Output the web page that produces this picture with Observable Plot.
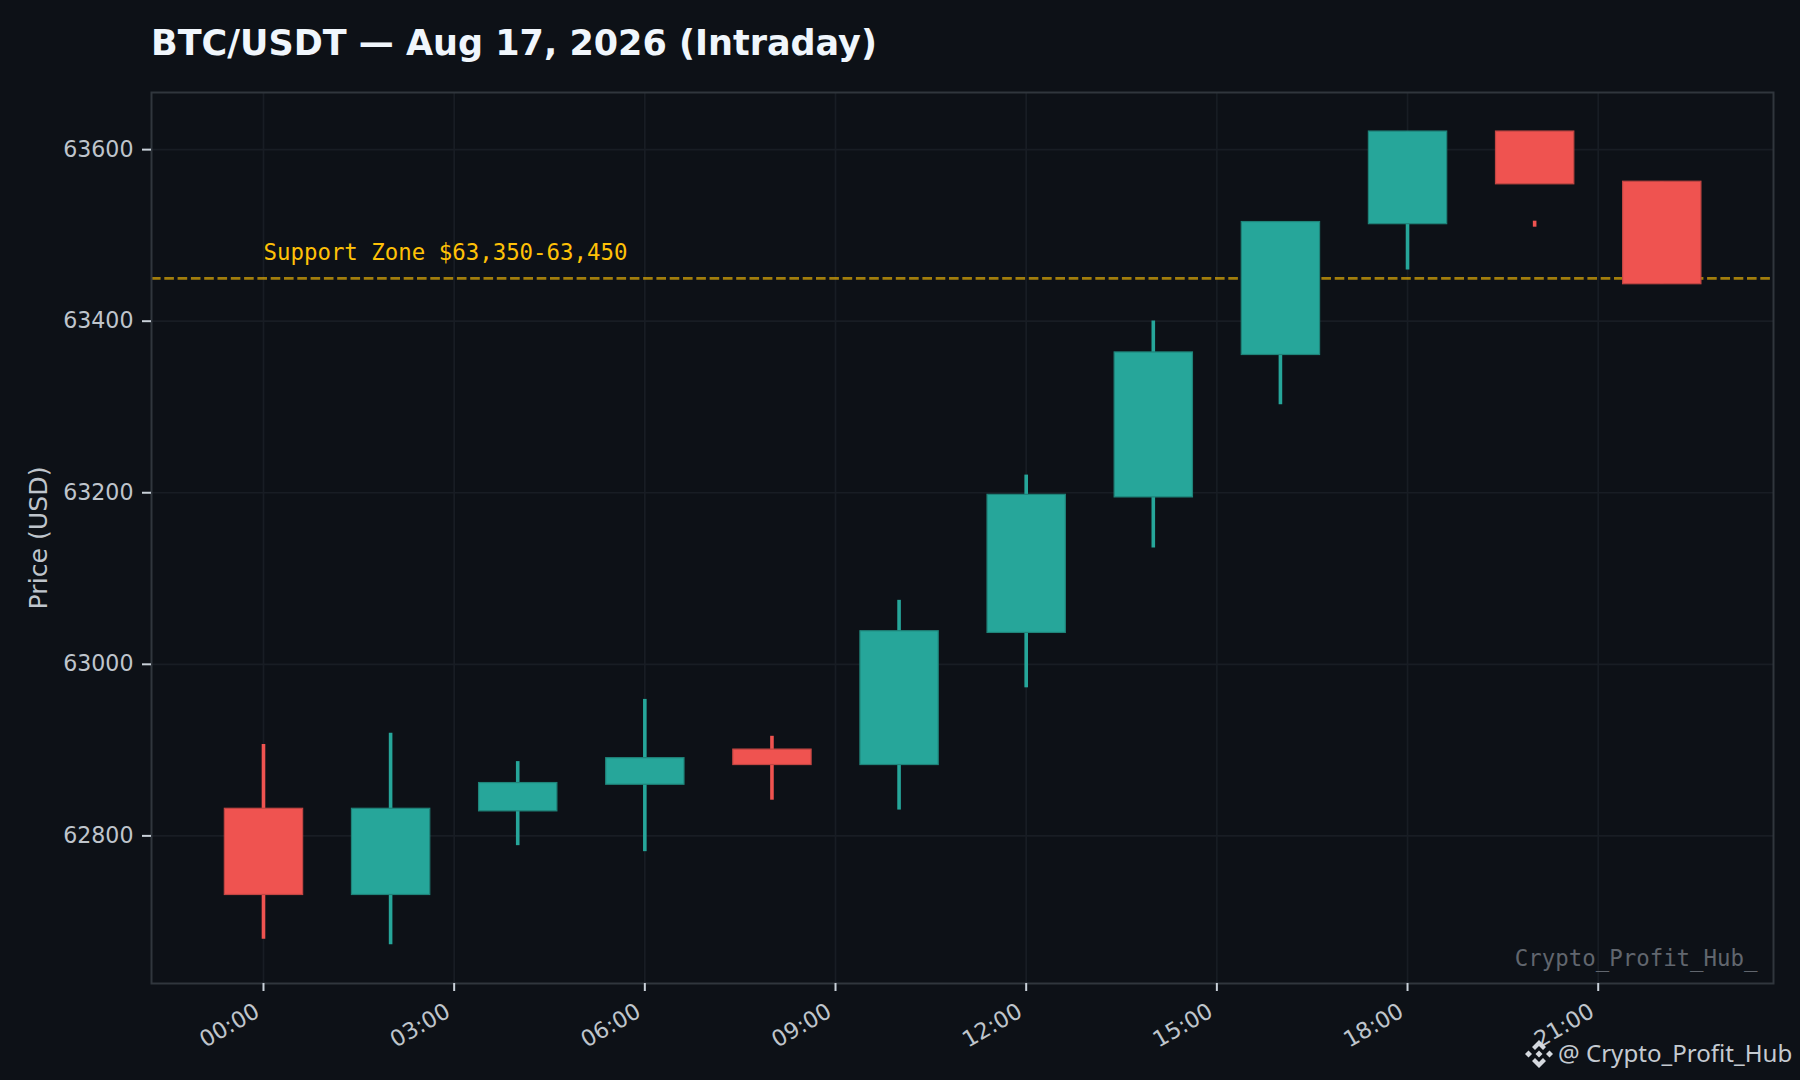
<!DOCTYPE html>
<html>
<head>
<meta charset="utf-8">
<script src="https://cdn.jsdelivr.net/npm/d3@7"></script>
<script src="https://cdn.jsdelivr.net/npm/@observablehq/plot@0.6"></script>
<style>
html,body{margin:0;padding:0;background:#0d1117;width:1800px;height:1080px;overflow:hidden;position:relative}
#title{height:70px;box-sizing:border-box;padding:22px 0 0 151px;font:bold 35px "DejaVu Sans";color:#f0f6fc;line-height:42px;white-space:nowrap}
#chart svg{display:block}
#credit{position:absolute;left:1525px;top:1038px;height:32px;width:275px;color:#c4cad1}
#credit svg{position:absolute;left:0;top:2px}
#credit span{position:absolute;left:33px;top:-1px;font:24.1px "Noto Sans";line-height:32px;white-space:nowrap}
</style>
</head>
<body>
<div id="title">BTC/USDT — Aug 17, 2026 (Intraday)</div>
<div id="chart"></div>
<div id="credit">
<svg width="28" height="28" viewBox="0 0 28 28" fill="#d5d9df"><polygon points="14,0 21,7 18,10 14,6 10,10 7,7"/><polygon points="0,14 3.500,10.500 7,14 3.500,17.500"/><polygon points="21,14 24.500,10.500 28,14 24.500,17.500"/><polygon points="14,10.500 17.500,14 14,17.500 10.500,14"/><polygon points="14,28 21,21 18,18 14,22 10,18 7,21"/></svg>
<span>@ Crypto_Profit_Hub</span>
</div>
<script>
const times = ["00:00","02:00","04:00","06:00","08:00","10:00","12:00","14:00","16:00","18:00","20:00","22:00"];
const bodyHigh = [62831,62831,62861,62890,62900,63038,63197,63363,63515,63620.5,63620.5,63562];
const bodyLow  = [62730.5,62730.5,62828,62859,62882,62882,63036,63194,63360,63512.5,63559,63442.5];
const wickHigh = [62906,62919,62886,62958.5,62915.5,63074,63220,63399.5,63515,63620.5,63516,63562];
const wickLow  = [62679,62672.5,62788,62781,62841,62829.5,62972,63135,63302,63459,63509,63442.5];
const isUp     = [false,true,true,true,false,true,true,true,true,true,false,false];
const tickHours = [0,3,6,9,12,15,18,21];
const tickLabels = ["00:00","03:00","06:00","09:00","12:00","15:00","18:00","21:00"];
const priceTicks = [62800,63000,63200,63400,63600];
const supportLevel = 63450;
const supportLabel = "Support Zone $63,350-63,450";
const watermark = "Crypto_Profit_Hub_";

const candles = times.map((t,i)=>({
  hour:+t.slice(0,2), top:bodyHigh[i], bottom:bodyLow[i], high:wickHigh[i], low:wickLow[i], up:isUp[i]
}));
const halfBody = 0.616;
const fillOf = d => d.up ? "#26a69a" : "#ef5350";
const edgeOf = d => d.up ? "#1f8379" : "#c24643";
const labelColor = "#bfc5cc";

const plot = Plot.plot({
  width:1800, height:1010,
  marginTop:22, marginBottom:97, marginLeft:151, marginRight:27,
  style:{background:"#0d1117", fontFamily:"DejaVu Sans"},
  x:{type:"linear", domain:[-1.762,23.758]},
  y:{domain:[62627.9,63666.6]},
  marks:[
    Plot.gridX(tickHours,{stroke:"#181d24",strokeOpacity:1,strokeWidth:1.7}),
    Plot.gridY(priceTicks,{stroke:"#181d24",strokeOpacity:1,strokeWidth:1.7}),
    Plot.ruleY([supportLevel],{stroke:"#ffc107",strokeOpacity:0.62,strokeWidth:2.7,strokeDasharray:"9.6,3.7"}),
    Plot.ruleX(candles,{x:"hour",y1:"low",y2:"high",stroke:fillOf,strokeWidth:3.6,dy:-0.5}),
    Plot.rect(candles,{x1:d=>d.hour-halfBody,x2:d=>d.hour+halfBody,y1:"bottom",y2:"top",fill:fillOf,stroke:edgeOf,strokeWidth:1.2,dx:0.5,dy:-0.5}),
    Plot.text([supportLabel],{x:0,y:supportLevel,dy:-18,text:d=>d,textAnchor:"start",lineAnchor:"bottom",fill:"#ffc107",fontFamily:"DejaVu Sans Mono",fontSize:22.4}),
    Plot.text([watermark],{frameAnchor:"bottom-right",dx:-16,dy:-18,text:d=>d,fill:"#61666e",fontFamily:"DejaVu Sans Mono",fontSize:22.4,lineAnchor:"bottom"}),
    Plot.frame({stroke:"#30363d",strokeWidth:2}),
    Plot.axisY(priceTicks,{anchor:"left",label:null,tickSize:9,tickPadding:9,tickFormat:d=>String(d),fontSize:22.1,color:labelColor,stroke:"#c9d1d9",strokeWidth:2}),
    Plot.axisX(tickHours,{anchor:"bottom",label:null,tickSize:8,fill:"none",stroke:"#c9d1d9",strokeWidth:2}),
    Plot.axisX(tickHours,{anchor:"bottom",label:null,tickSize:8,tickPadding:8,tickRotate:-30,tickFormat:(d,i)=>tickLabels[i],fontSize:22.4,fill:labelColor,stroke:"none",dx:-6,dy:10}),
    Plot.text(["Price (USD)"],{frameAnchor:"left",dx:-113,rotate:-90,text:d=>d,fill:labelColor,fontSize:25.2,textAnchor:"middle"})
  ]
});
document.getElementById("chart").appendChild(plot);
</script>
</body>
</html>
